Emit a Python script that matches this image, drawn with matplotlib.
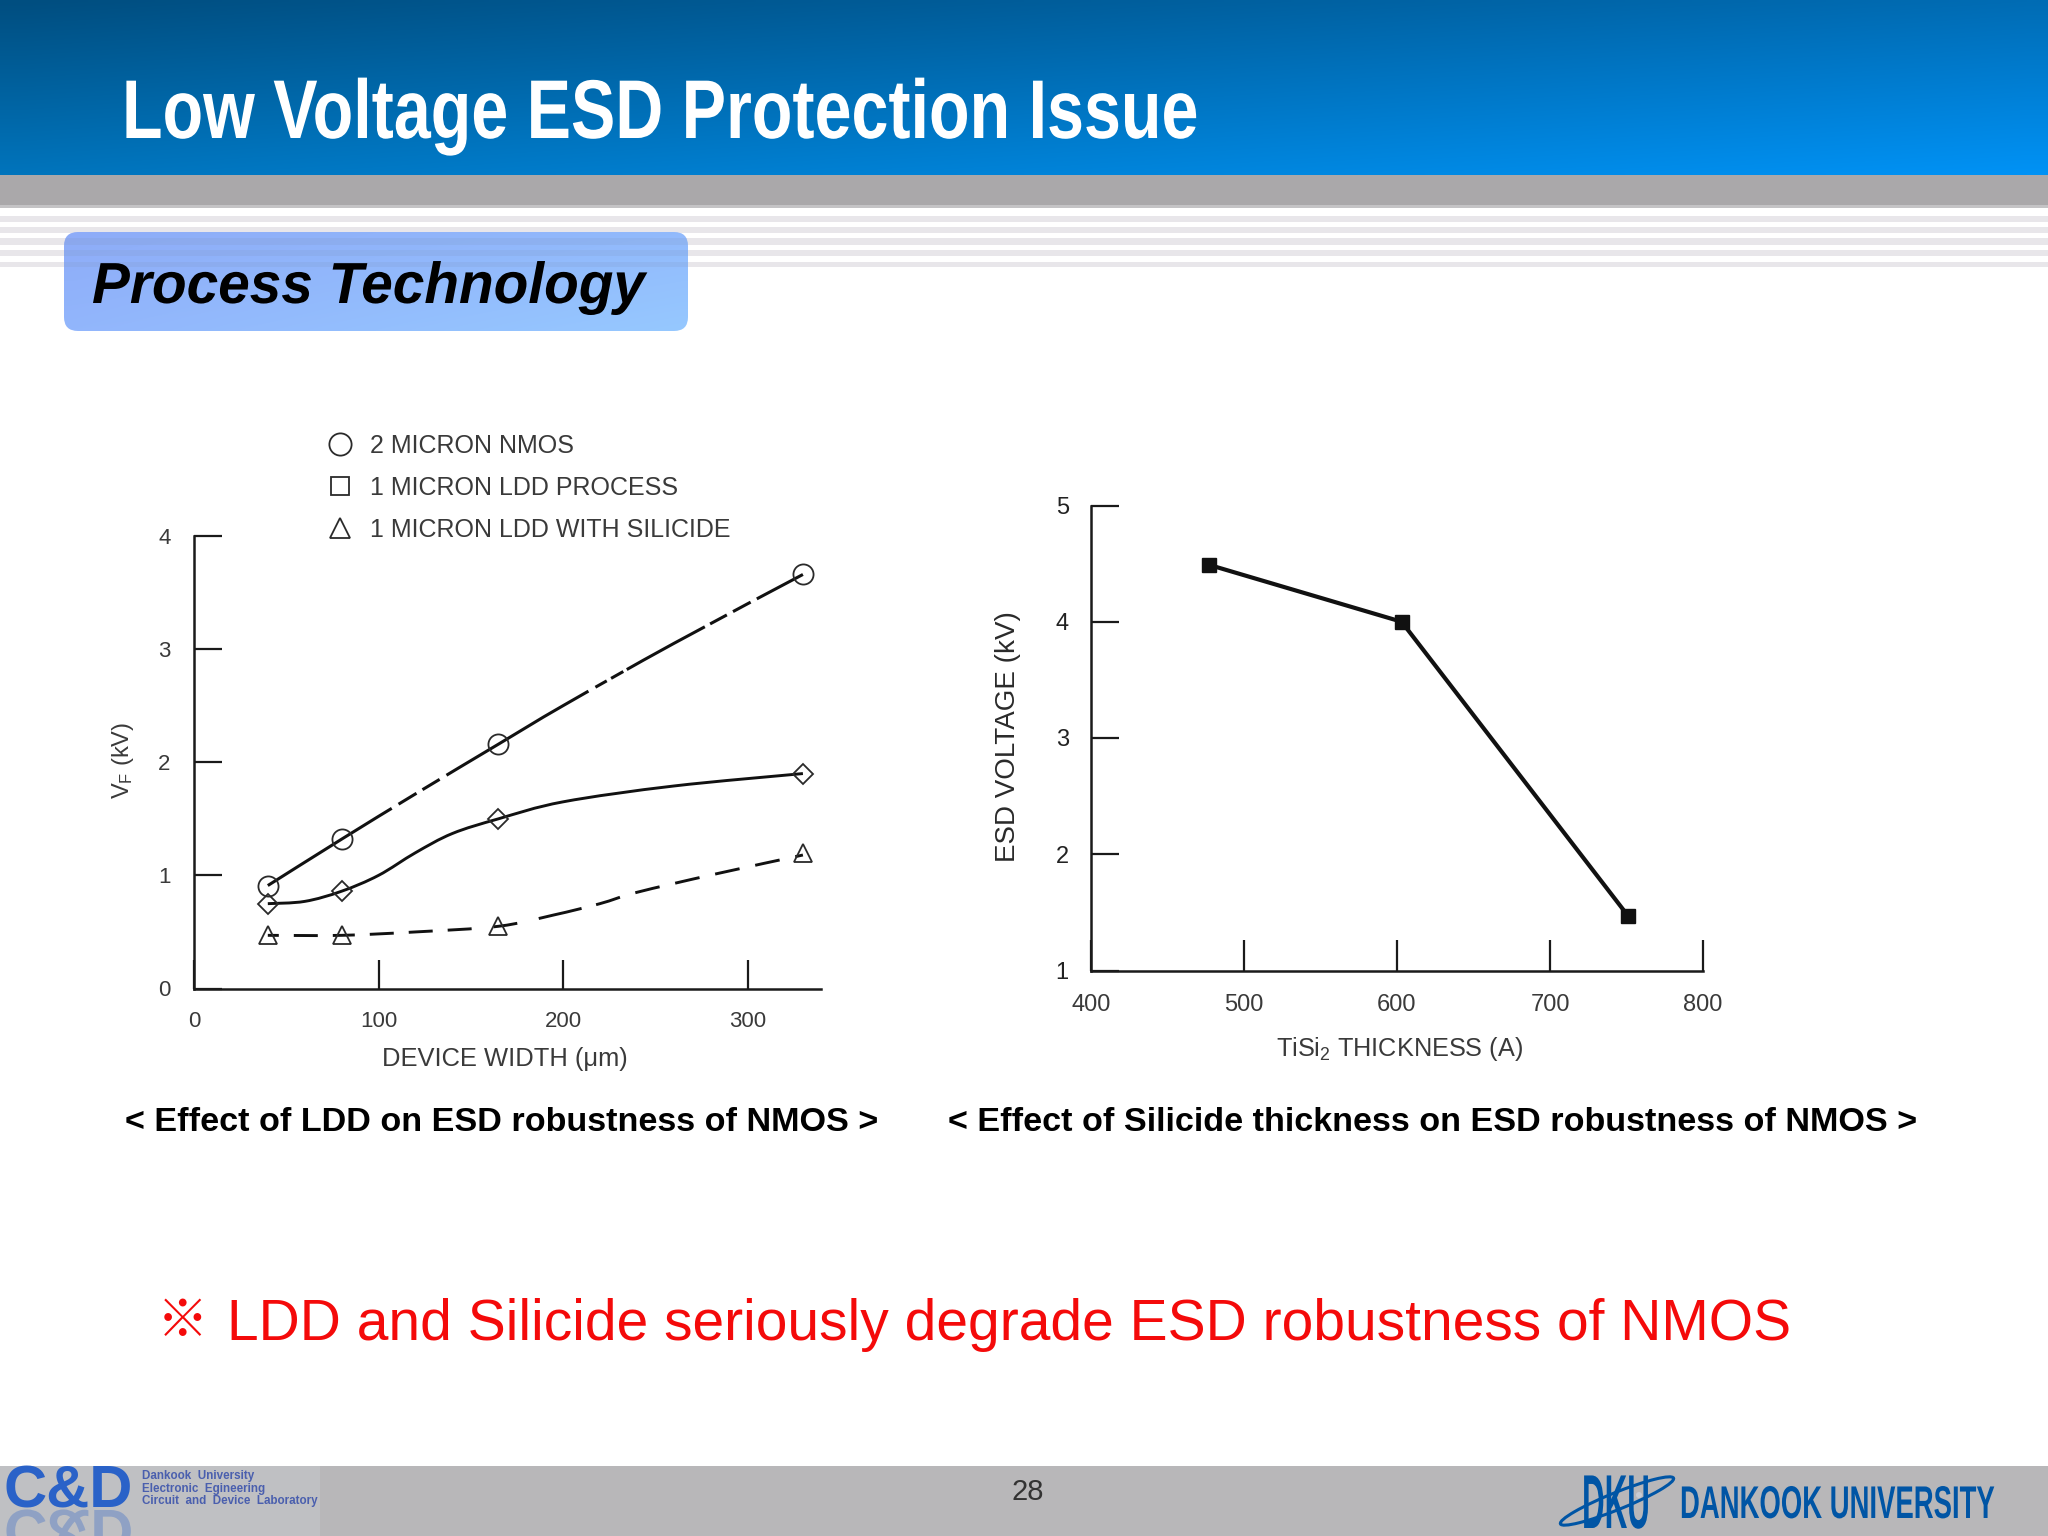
import numpy as np
import matplotlib
matplotlib.use("Agg")
import matplotlib.pyplot as plt
from matplotlib.lines import Line2D
from matplotlib.patches import FancyBboxPatch, Ellipse, PathPatch, Circle
from matplotlib.path import Path
from matplotlib.patheffects import AbstractPathEffect
from matplotlib.textpath import TextPath
from matplotlib.font_manager import FontProperties
from matplotlib.transforms import Affine2D, Bbox

plt.rcParams['font.family'] = ['Liberation Sans', 'DejaVu Sans']
plt.rcParams['mathtext.default'] = 'regular'
plt.rcParams['lines.scale_dashes'] = False

# ---------- data ----------
title = "Low Voltage ESD Protection Issue"
section = "Process Technology"
caption_left = "< Effect of LDD on ESD robustness of NMOS >"
caption_right = "< Effect of Silicide thickness on ESD robustness of NMOS >"
note = "LDD and Silicide seriously degrade ESD robustness of NMOS"
page = "28"

width_marks = [40, 80, 165, 330]
nmos_marks = [0.91, 1.32, 2.16, 3.66]
ldd_marks = [0.75, 0.86, 1.50, 1.90]
sil_marks = [0.47, 0.47, 0.55, 1.20]

nmos_curve_x = [40, 80, 120, 165, 200, 260, 330]
nmos_curve_y = [0.91, 1.32, 1.72, 2.16, 2.50, 3.05, 3.66]
ldd_curve_x = [40, 60, 80, 100, 120, 140, 165, 200, 260, 330]
ldd_curve_y = [0.75, 0.77, 0.86, 1.00, 1.20, 1.37, 1.50, 1.65, 1.79, 1.90]
sil_curve_x = [40, 80, 120, 165, 195, 220, 240, 282, 330]
sil_curve_y = [0.47, 0.47, 0.50, 0.55, 0.65, 0.75, 0.85, 1.01, 1.18]

legend_labels = ["2 MICRON NMOS", "1 MICRON LDD PROCESS", "1 MICRON LDD WITH SILICIDE"]
left_xticks = [0, 100, 200, 300]
left_yticks = [0, 1, 2, 3, 4]

thick_x = [477, 603, 751]
esd_kv = [4.49, 4.00, 1.47]
right_xticks = [400, 500, 600, 700, 800]
right_yticks = [1, 2, 3, 4, 5]

# dash patterns in pixels along the curves
nmos_dash_px = [146, 8, 21, 7, 20, 8, 165, 8, 13, 5, 14, 4, 89, 6, 19, 7, 20, 7, 60, 40]
sil_dash_px = [11, 15, 24, 15, 22, 15, 24, 15, 24, 15, 24, 22, 24, 22, 44, 15, 25, 16, 25, 16, 25, 16,
               25, 16, 25, 16, 25, 40]

# ---------- page ----------
W, H = 2048, 1536
DPI = 100
fig = plt.figure(figsize=(W / DPI, H / DPI), dpi=DPI, facecolor='white')
bg = fig.add_axes([0, 0, 1, 1], zorder=0)
bg.set_xlim(0, W)
bg.set_ylim(H, 0)
bg.axis('off')


class Squeeze(AbstractPathEffect):
    """Narrow a text horizontally about its origin (no condensed font is installed)."""

    def __init__(self, sx):
        super().__init__()
        self.sx = sx

    def draw_path(self, renderer, gc, tpath, affine, rgbFace=None):
        renderer.draw_path(gc, tpath, Affine2D().scale(self.sx, 1) + affine, rgbFace)


def squeeze(t, sx):
    t.set_path_effects([Squeeze(sx)])
    full = t.get_window_extent

    def extent(renderer=None, dpi=None):
        b = full(renderer, dpi)
        return Bbox.from_extents(b.x0, b.y0, b.x0 + b.width * sx, b.y1)

    t.get_window_extent = extent
    return t


def rgb_grad(tl, tr, bl, br, n=48):
    u, v = np.meshgrid(np.linspace(0, 1, n), np.linspace(0, 1, n))
    u, v = u[..., None], v[..., None]
    tl, tr, bl, br = [np.array(c, dtype=float) / 255 for c in (tl, tr, bl, br)]
    return tl * (1 - u) * (1 - v) + tr * u * (1 - v) + bl * (1 - u) * v + br * u * v


# header
bg.imshow(rgb_grad((0, 78, 128), (0, 108, 180), (0, 116, 188), (0, 146, 245)),
          extent=(0, W, 175, 0), aspect='auto', interpolation='bilinear', zorder=1)
bg.fill_between([0, W], 175, 205, color='#aaa8aa', lw=0, zorder=1)
bg.fill_between([0, W], 205, 208, color='#c4c3c5', lw=0, zorder=1)
for y0, y1 in [(216, 222), (227, 233), (238, 245), (250, 256), (262, 267)]:
    bg.fill_between([0, W], y0, y1, color='#e8e6ea', lw=0, zorder=1)

# section badge
box = FancyBboxPatch((64 + 14, 232 + 14), 624 - 28, 99 - 28, boxstyle="round,pad=14,rounding_size=14",
                     fc='none', ec='none', transform=bg.transData, zorder=2)
bg.add_patch(box)
im = bg.imshow(rgb_grad((142, 172, 248), (146, 186, 252), (146, 182, 252), (150, 200, 255)),
               extent=(64, 688, 331, 232), aspect='auto', interpolation='bilinear', zorder=2)
im.set_clip_path(box)
for y0, y1 in [(238, 245), (250, 256), (262, 267)]:
    band = bg.fill_between([0, W], y0, y1, color='#7f95c0', alpha=0.18, lw=0, zorder=2.1)
    band.set_clip_path(box)

# footer
bg.fill_between([0, W], 1466, H, color='#b8b7b9', lw=0, zorder=1)
bg.fill_between([0, 320], 1466, H, color='#bfc0c3', lw=0, zorder=1)

# page texts
squeeze(bg.text(122, 138, title, color='white', fontsize=60, fontweight='bold', va='baseline', zorder=5), 0.797)
squeeze(bg.text(92, 303, section, color='black', fontsize=41.7, fontweight='bold', fontstyle='italic',
                va='baseline', zorder=5), 0.98)
bg.text(125, 1131, caption_left, color='black', fontsize=24.6, fontweight='bold', va='baseline', zorder=5)
bg.text(948, 1131, caption_right, color='black', fontsize=24.6, fontweight='bold', va='baseline', zorder=5)
bg.text(157, 1337, "※", color='#f40a0a', fontsize=37, family=['Noto Sans CJK SC', 'DejaVu Sans'],
        va='baseline', zorder=5)
bg.text(227, 1340, note, color='#f40a0a', fontsize=41, va='baseline', zorder=5)
bg.text(1028, 1492, page, color='#333333', fontsize=21, ha='center', va='center', zorder=5)

# C&D logo
bg.text(4, 1507, "C&D", color='#2a62c8', fontsize=43, fontweight='bold', va='baseline', zorder=5)
fp = FontProperties(family='Liberation Sans', weight='bold', size=43)
tp = TextPath((0, 0), "C&D", prop=fp)
sc = 1 / 0.72
refl = PathPatch(tp, fc='#2a62c8', ec='none', alpha=0.32, zorder=5,
                 transform=Affine2D().scale(sc, sc).translate(4, 1510) + bg.transData)
bg.add_patch(refl)
refl.set_clip_box(bg.bbox)
for yy, s in zip([1476, 1489, 1501],
                 ["Dankook  University", "Electronic  Egineering", "Circuit  and  Device  Laboratory"]):
    bg.text(142, yy, s, color='#4a5fae', fontsize=8.4, fontweight='bold', va='center', zorder=5)

# DKU logo
navy = '#0055a5'
squeeze(bg.text(1582, 1528, "DKU", color=navy, fontsize=55, fontweight='bold', va='baseline', zorder=5), 0.41)
bg.add_patch(Ellipse((1617, 1501), 122, 17, angle=-22, fc='none', ec=navy, lw=2.2, zorder=6))
bg.add_patch(Circle((1639, 1495), 3, fc='#c8ccd4', ec='none', zorder=6))
squeeze(bg.text(1680, 1518, "DANKOOK UNIVERSITY", color=navy, fontsize=33, fontweight='bold',
                va='baseline', zorder=5), 0.60)


def px_axes(x0, ytop, x1, ybot):
    return fig.add_axes([x0 / W, 1 - ybot / H, (x1 - x0) / W, (ybot - ytop) / H], zorder=3)


def px_dash(seq):
    return (0, tuple(v * 72 / DPI for v in seq))


def smooth_curve(ax, xs, ys, **kw):
    """Draw a smooth curve through the read points (Catmull-Rom as Bezier segments)."""
    p = np.column_stack([xs, ys]).astype(float)
    verts = [p[0]]
    for i in range(len(p) - 1):
        a = p[max(i - 1, 0)]
        d = p[min(i + 2, len(p) - 1)]
        verts += [p[i] + (p[i + 1] - a) / 6, p[i + 1] - (d - p[i]) / 6, p[i + 1]]
    codes = [Path.MOVETO] + [Path.CURVE4] * (len(verts) - 1)
    ax.add_patch(PathPatch(Path(verts, codes), fc='none', capstyle='butt', **kw))


ink = '#1a1a1a'
label_c = '#3a3a3a'

# ---------- left chart ----------
ax = px_axes(194, 536, 821, 988.5)
ax.patch.set_alpha(0)
ax.set_xlim(0, 339.8)
ax.set_ylim(0, 4)
smooth_curve(ax, nmos_curve_x, nmos_curve_y, ec='#111111', lw=2.2, ls=px_dash(nmos_dash_px))
smooth_curve(ax, ldd_curve_x, ldd_curve_y, ec='#111111', lw=2.1)
smooth_curve(ax, sil_curve_x, sil_curve_y, ec='#111111', lw=2.1, ls=px_dash(sil_dash_px))
mk = dict(ls='none', mfc='none', mec='#2a2a2a', mew=1.3, clip_on=False)
ax.plot(width_marks, nmos_marks, marker='o', ms=14.5, **mk)
ax.plot(width_marks, ldd_marks, marker='D', ms=10, **mk)
ax.plot(width_marks, sil_marks, marker='^', ms=13, **mk)
for s in ('top', 'right'):
    ax.spines[s].set_visible(False)
for s in ('left', 'bottom'):
    ax.spines[s].set_linewidth(1.8)
    ax.spines[s].set_color(ink)
ax.set_xticks(left_xticks)
ax.set_yticks(left_yticks)
ax.tick_params(axis='x', direction='in', length=21, width=1.6, color=ink, pad=16,
               labelsize=16, labelcolor=label_c)
ax.tick_params(axis='y', direction='in', length=20, width=1.6, color=ink, pad=17,
               labelsize=16, labelcolor=label_c)
ax.set_xlabel("DEVICE WIDTH (μm)", fontsize=18.4, color=label_c)
ax.xaxis.set_label_coords(505, 1059, transform=bg.transData)
ax.xaxis.label.set_va('center')
ax.set_ylabel("V$_{F}$ (kV)", fontsize=17, color=label_c)
ax.yaxis.set_label_coords(123, 760, transform=bg.transData)
ax.yaxis.label.set_va('center')

handles = [Line2D([], [], ls='none', marker=m, ms=s, mfc='none', mec='#2a2a2a', mew=1.3)
           for m, s in zip(['o', 's', '^'], [16, 13, 15])]
leg = ax.legend(handles, legend_labels, loc='upper left', bbox_to_anchor=(329, 434),
                bbox_transform=bg.transData, frameon=False, fontsize=18, labelcolor=label_c,
                handlelength=0.9, handletextpad=0.72, labelspacing=0.72, borderpad=0, borderaxespad=0)

# ---------- right chart ----------
ar = px_axes(1091, 505.5, 1703, 970.5)
ar.patch.set_alpha(0)
ar.set_xlim(400, 800)
ar.set_ylim(1, 5)
ar.plot(thick_x, esd_kv, color='#111111', lw=3.0, marker='s', ms=10, mfc='#111111', mec='#111111',
        clip_on=False)
for s in ('top', 'right'):
    ar.spines[s].set_visible(False)
for s in ('left', 'bottom'):
    ar.spines[s].set_linewidth(1.8)
    ar.spines[s].set_color(ink)
ar.set_xticks(right_xticks)
ar.set_yticks(right_yticks)
ar.tick_params(axis='x', direction='in', length=22, width=1.6, color=ink, pad=17,
               labelsize=17, labelcolor=label_c)
ar.tick_params(axis='y', direction='in', length=20, width=1.6, color=ink, pad=16,
               labelsize=17, labelcolor='#222222')
ar.set_xlabel("TiSi$_{2}$ THICKNESS (A)", fontsize=18.2, color=label_c)
ar.xaxis.set_label_coords(1399, 1049, transform=bg.transData)
ar.xaxis.label.set_va('center')
ar.set_ylabel("ESD VOLTAGE (kV)", fontsize=20, color='#2a2a2a')
ar.yaxis.set_label_coords(1008, 737, transform=bg.transData)
ar.yaxis.label.set_va('center')

fig.savefig("out.png", dpi=DPI, facecolor='white')
